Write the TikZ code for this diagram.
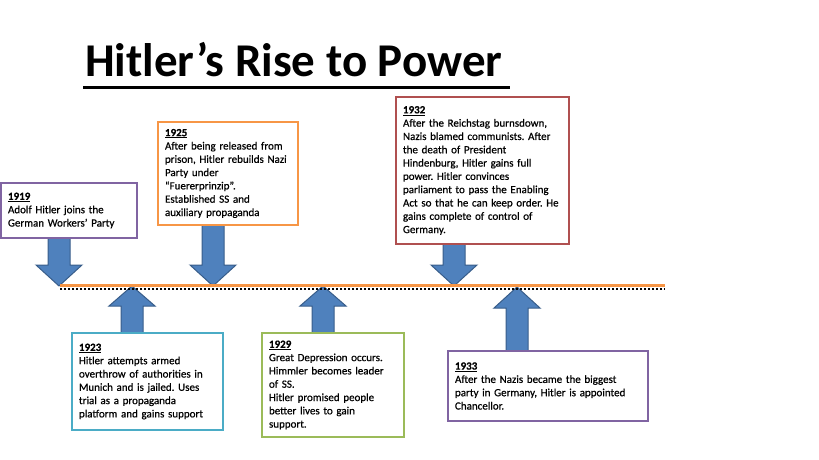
\documentclass[tikz,border=0pt]{standalone}
\usepackage{fontspec}
\setmainfont{Carlito}
\newfontfamily\bodyfont{Carlito}[FakeBold=0.6]
\usepackage{xcolor}
\usetikzlibrary{positioning,calc,backgrounds}
\frenchspacing
\definecolor{boxpurple}{RGB}{128,100,162}
\definecolor{boxorange}{RGB}{247,150,70}
\definecolor{boxteal}{RGB}{75,172,198}
\definecolor{boxgreen}{RGB}{155,187,89}
\definecolor{boxred}{RGB}{176,80,80}
\definecolor{arrowblue}{RGB}{79,129,189}
\definecolor{arrowedge}{RGB}{56,93,138}
\tikzset{event/.style={draw,line width=2.5pt,fill=white,anchor=north west,align=left,inner sep=7pt,outer sep=0pt,font=\fontsize{11}{13.3}\bodyfont},
  bigarrow/.style={fill=arrowblue,draw=arrowedge,line width=1pt,line join=miter},
  timeline/.style={draw=boxorange,line width=3pt},
  dotline/.style={draw=black,line width=1.5pt,dash pattern=on 2pt off 2pt}}
\newcommand{\yearlabel}[1]{\textbf{\underline{#1}}}
\newcommand{\blockarrow}[3]{%
  \draw[bigarrow] let \p1=(#1), \p2=(#2) in
    (\x2-11pt,\y1) -- (\x2-11pt,\y2+#3) -- (\x2-23pt,\y2+#3) -- (\x2,\y2)
    -- (\x2+23pt,\y2+#3) -- (\x2+11pt,\y2+#3) -- (\x2+11pt,\y1) -- cycle;}

\begin{document}
\begin{tikzpicture}[x=1pt,y=-1pt]
  \useasboundingbox (0,0) rectangle (819,460);

  \node[anchor=base west,inner sep=0pt,font=\fontsize{47}{56}\selectfont\bfseries] (title) at (85,77) {Hitler’s Rise to Power};
  \draw[line width=3pt] ([xshift=-2pt,yshift=-10pt]title.base west) -- ([xshift=7pt,yshift=-10pt]title.base east);

  \coordinate (lineL) at (60,285);
  \coordinate (lineR) at (665,285);
  \draw[timeline] (lineL) -- (lineR);
  \draw[dotline] ([yshift=-4pt]lineL) -- ([yshift=-4pt]lineR);

  \node[event,draw=boxpurple,text width=122pt,minimum height=55pt] (e1919) at (1,183)
    {\yearlabel{1919}\\Adolf Hitler joins the\\German Workers’ Party};
  \node[event,draw=boxorange,text width=126pt,minimum height=101pt] (e1925) at (158,122)
    {\yearlabel{1925}\\After being released from\\prison, Hitler rebuilds Nazi\\Party under\\“Fuererprinzip”.\\Established SS and\\auxiliary propaganda};
  \node[event,draw=boxred,text width=159pt,minimum height=147pt] (e1932) at (396,97)
    {\yearlabel{1932}\\After the Reichstag burnsdown,\\Nazis blamed communists. After\\the death of President\\Hindenburg, Hitler gains full\\power. Hitler convinces\\parliament to pass the Enabling\\Act so that he can keep order. He\\gains complete of control of\\Germany.};
  \node[event,draw=boxteal,text width=137pt,minimum height=97pt] (e1923) at (72,333)
    {\yearlabel{1923}\\Hitler attempts armed\\overthrow of authorities in\\Munich and is jailed. Uses\\trial as a propaganda\\platform and gains support};
  \node[event,draw=boxgreen,text width=128pt,minimum height=104pt] (e1929) at (262,333)
    {\yearlabel{1929}\\Great Depression occurs.\\Himmler becomes leader\\of SS.\\Hitler promised people\\better lives to gain\\support.};
  \node[event,draw=boxpurple,text width=186pt,minimum height=70pt] (e1933) at (448,351)
    {\yearlabel{1933}\\After the Nazis became the biggest\\party in Germany, Hitler is appointed\\Chancellor.};

  \coordinate (t1919) at (59,286);
  \coordinate (t1925) at (213,286);
  \coordinate (t1932) at (454,286);
  \coordinate (t1923) at (132,286);
  \coordinate (t1929) at (323,286);
  \coordinate (t1933) at (517,287);

  \begin{scope}[on background layer]
    \blockarrow{e1919.south}{t1919}{21pt}
    \blockarrow{e1925.south}{t1925}{21pt}
    \blockarrow{e1932.south}{t1932}{21pt}
    \blockarrow{e1923.north}{t1923}{-20pt}
    \blockarrow{e1929.north}{t1929}{-20pt}
    \blockarrow{e1933.north}{t1933}{-21pt}
  \end{scope}
\end{tikzpicture}
\end{document}
